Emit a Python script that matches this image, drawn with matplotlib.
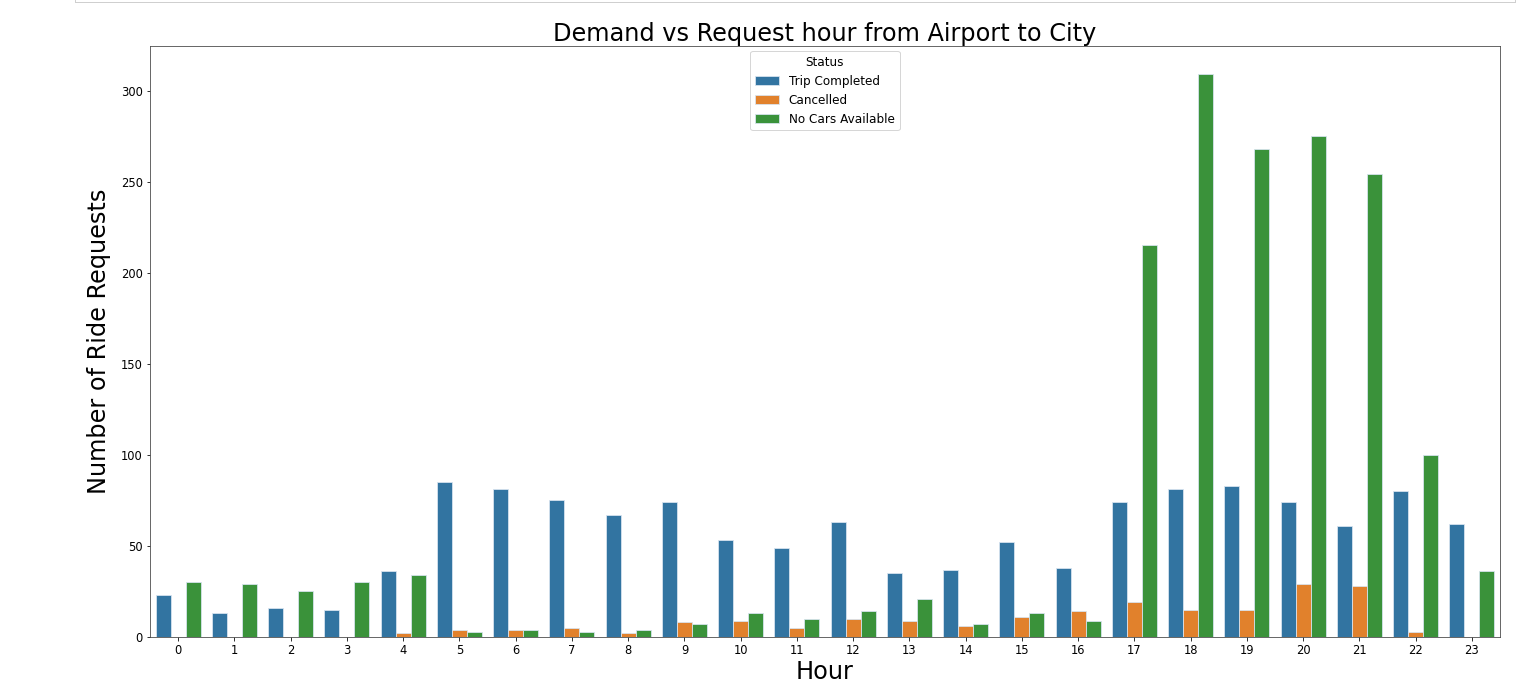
import numpy as np
import pandas as pd
import matplotlib
matplotlib.use("Agg")
import matplotlib.pyplot as plt
import seaborn as sns

hours = list(range(24))
statuses = ["Trip Completed", "Cancelled", "No Cars Available"]
trip_completed = [23, 13, 16, 15, 36, 85, 81, 75, 67, 74, 53, 49,
                  63, 35, 37, 52, 38, 74, 81, 83, 74, 61, 80, 62]
cancelled = [0, 0, 0, 0, 2, 4, 4, 5, 2, 8, 9, 5,
             10, 9, 6, 11, 14, 19, 15, 15, 29, 28, 3, 0]
no_cars = [30, 29, 25, 30, 34, 3, 4, 3, 4, 7, 13, 10,
           14, 21, 7, 13, 9, 215, 309, 268, 275, 254, 100, 36]

rows = []
for s, vals in zip(statuses, [trip_completed, cancelled, no_cars]):
    for h, v in zip(hours, vals):
        rows.append({"Hour": h, "Status": s, "Count": v})
df = pd.DataFrame(rows)

dpi = 72
fig = plt.figure(figsize=(1537 / dpi, 700 / dpi), dpi=dpi)
ax = fig.add_axes([150 / 1537, 1 - 637 / 700, 1350 / 1537, 591 / 700])

sns.barplot(data=df, x="Hour", y="Count", hue="Status", hue_order=statuses,
            ax=ax, edgecolor="#d8e4f0", linewidth=0.8)

ax.set_xlim(-0.5, 23.5)
ax.set_title("Demand vs Request hour from Airport to City", fontsize=24, pad=5)
ax.set_xlabel("Hour", fontsize=24, labelpad=3)
ax.set_ylabel("Number of Ride Requests", fontsize=24, labelpad=10)
ax.tick_params(labelsize=11.5)
for sp in ax.spines.values():
    sp.set_color("#444444")
ax.legend(title="Status", loc="upper center", fontsize=12, title_fontsize=12,
          borderaxespad=0.4)

# notebook cell border at the top
fig.add_artist(plt.Line2D([75 / 1537, 1515 / 1537], [1 - 2 / 700, 1 - 2 / 700],
                          color="#cfcfcf", lw=1))
fig.add_artist(plt.Line2D([75 / 1537, 75 / 1537], [1 - 2 / 700, 1.0],
                          color="#cfcfcf", lw=1))
fig.add_artist(plt.Line2D([1515 / 1537, 1515 / 1537], [1 - 2 / 700, 1.0],
                          color="#cfcfcf", lw=1))

fig.savefig("out.png", dpi=dpi)
